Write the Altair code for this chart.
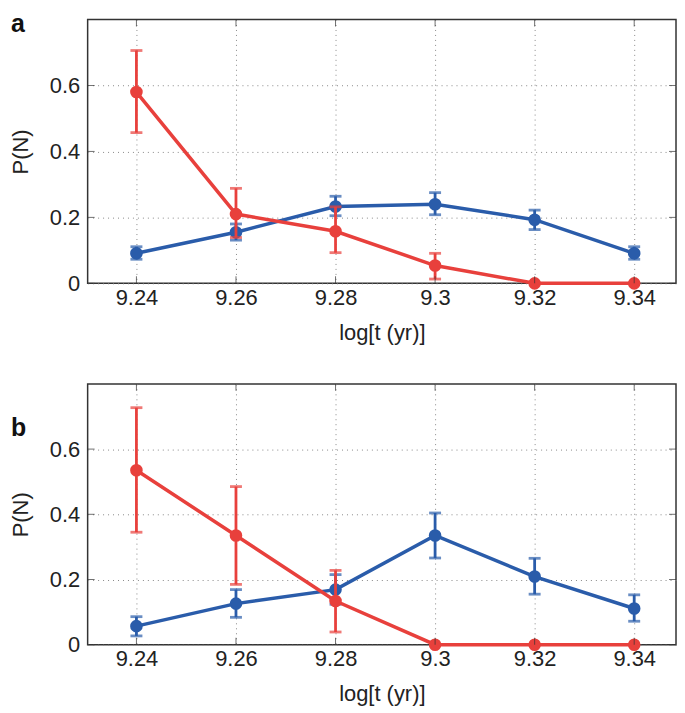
import pandas as pd
import altair as alt

# time bins, log[t (yr)]
t_bins = [9.24, 9.26, 9.28, 9.30, 9.32, 9.34]

# panel a
a_blue = [0.091, 0.155, 0.233, 0.240, 0.193, 0.091]
a_blue_lo = [0.073, 0.131, 0.205, 0.208, 0.163, 0.073]
a_blue_hi = [0.111, 0.180, 0.264, 0.275, 0.222, 0.111]
a_red = [0.580, 0.210, 0.158, 0.054, 0.0, 0.0]
a_red_lo = [0.457, 0.139, 0.093, 0.013, None, None]
a_red_hi = [0.706, 0.288, 0.232, 0.091, None, None]

# panel b
b_blue = [0.057, 0.126, 0.169, 0.335, 0.209, 0.111]
b_blue_lo = [0.027, 0.084, 0.124, 0.266, 0.155, 0.072]
b_blue_hi = [0.086, 0.169, 0.215, 0.404, 0.265, 0.153]
b_red = [0.535, 0.335, 0.134, 0.0, 0.0, 0.0]
b_red_lo = [0.345, 0.185, 0.039, None, None, None]
b_red_hi = [0.727, 0.485, 0.228, None, None, None]

x_ticks = [9.24, 9.26, 9.28, 9.30, 9.32, 9.34]
y_ticks = [0, 0.2, 0.4, 0.6]

BLUE = "#2a5caa"
RED = "#e8403c"
FONT = "Liberation Sans"
W = 591


def series(name, y, lo, hi):
    return pd.DataFrame({"t": t_bins, "p": y, "lo": lo, "hi": hi, "s": name})


def panel(blue, red, letter, letter_y, H):
    df = pd.concat([series("blue", *blue), series("red", *red)])
    xs = alt.Scale(domain=[9.2302, 9.3484], nice=False, zero=False)
    ys = alt.Scale(domain=[0, 0.8], nice=False)
    col = alt.Color("s:N", scale=alt.Scale(domain=["blue", "red"], range=[BLUE, RED]), legend=None)

    base = alt.Chart(df)
    x = alt.X("t:Q", scale=xs,
              axis=alt.Axis(values=x_ticks, format="~g", title="log[t (yr)]", grid=True,
                            ticks=False, domain=False, labelPadding=4, titlePadding=14))
    y = alt.Y("p:Q", scale=ys,
              axis=alt.Axis(values=y_ticks, format="~g", title="P(N)", grid=True,
                            ticks=False, domain=False, labelPadding=8, titlePadding=17))

    layers = []
    for s in ["blue", "red"]:
        b = base.transform_filter(alt.datum.s == s)
        err = b.transform_filter("isValid(datum.lo)")
        layers.append(b.mark_line(strokeWidth=3.5).encode(x=x, y=y, color=col))
        layers.append(err.mark_rule(strokeWidth=2.8).encode(x="t:Q", y="lo:Q", y2="hi:Q", color=col))
        layers.append(err.mark_tick(orient="horizontal", size=12, thickness=2.8).encode(x="t:Q", y="lo:Q", color=col))
        layers.append(err.mark_tick(orient="horizontal", size=12, thickness=2.8).encode(x="t:Q", y="hi:Q", color=col))
        layers.append(b.mark_circle(size=160, opacity=1).encode(x="t:Q", y="p:Q", color=col))

    # inward tick marks on the frame
    xt = alt.Chart(pd.DataFrame({"t": x_ticks}))
    yt = alt.Chart(pd.DataFrame({"p": y_ticks}))
    tk = dict(color="#333", thickness=1, size=7)
    layers.append(xt.mark_tick(orient="vertical", yOffset=-3.5, **tk).encode(x=alt.X("t:Q", scale=xs), y=alt.value(H)))
    layers.append(xt.mark_tick(orient="vertical", yOffset=3.5, **tk).encode(x=alt.X("t:Q", scale=xs), y=alt.value(0)))
    layers.append(yt.mark_tick(orient="horizontal", xOffset=3.5, **tk).encode(y=alt.Y("p:Q", scale=ys), x=alt.value(0)))
    layers.append(yt.mark_tick(orient="horizontal", xOffset=-3.5, **tk).encode(y=alt.Y("p:Q", scale=ys), x=alt.value(W)))

    label = alt.Chart(pd.DataFrame({"l": [letter]})).mark_text(
        font=FONT, fontSize=25, fontWeight="bold", align="left", baseline="alphabetic", color="#111"
    ).encode(text="l:N", x=alt.value(-77), y=alt.value(letter_y))
    layers.append(label)

    return alt.layer(*layers).properties(width=W, height=H)


chart = alt.vconcat(
    panel((a_blue, a_blue_lo, a_blue_hi), (a_red, a_red_lo, a_red_hi), "a", 13, 265),
    panel((b_blue, b_blue_lo, b_blue_hi), (b_red, b_red_lo, b_red_hi), "b", 52, 262),
    spacing=39,
).configure_view(
    stroke="#333", strokeWidth=1.5
).configure_axis(
    labelFont=FONT, titleFont=FONT, labelFontSize=22, titleFontSize=22,
    labelColor="#222", titleColor="#222", titleFontWeight="normal",
    gridColor="#888", gridDash=[1, 4], gridWidth=1,
).properties(
    padding={"left": 0, "top": 2, "right": 0, "bottom": 0}
)

chart.save("out.html", embed_options={"renderer": "svg", "actions": False})
